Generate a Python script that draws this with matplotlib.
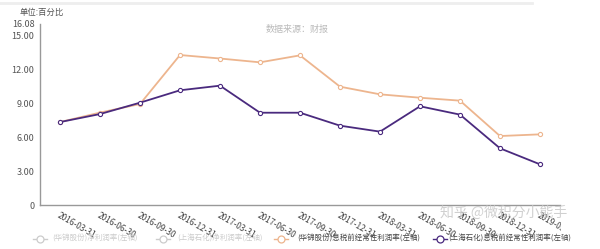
import matplotlib
matplotlib.use("Agg")
import matplotlib.pyplot as plt
from matplotlib.lines import Line2D
from matplotlib.transforms import Bbox, TransformedBbox

plt.rcParams['font.family'] = ['Noto Sans CJK SC', 'DejaVu Sans']

dates = ["2016-03-31", "2016-06-30", "2016-09-30", "2016-12-31", "2017-03-31",
         "2017-06-30", "2017-09-30", "2017-12-31", "2018-03-31", "2018-06-30",
         "2018-09-30", "2018-12-31", "2019-03-31"]
huajin_ebit = [7.36, 8.2, 8.96, 13.31, 13.0, 12.66, 13.28, 10.50, 9.82, 9.52, 9.26, 6.12, 6.27]
shpc_ebit = [7.36, 8.07, 9.08, 10.18, 10.59, 8.19, 8.19, 7.04, 6.51, 8.76, 8.02, 5.03, 3.61]
y_ticks = [0, 3, 6, 9, 12, 15, 16.08]
y_labels = ["0", "3.00", "6.00", "9.00", "12.00", "15.00", "16.08"]
legend_labels = ["(华锦股份)净利润率(左轴)", "(上海石化)净利润率(左轴)",
                 "(华锦股份)息税前经常性利润率(左轴)", "(上海石化)息税前经常性利润率(左轴)"]

W, H = 600, 249
fig = plt.figure(figsize=(6, 2.49), dpi=100)
ax = fig.add_axes([40 / W, 1 - 205 / H, 520 / W, (205 - 23.8) / H])

orange = "#EDB58E"
purple = "#4A2A7E"
x = list(range(len(dates)))
ax.plot(x, huajin_ebit, color=orange, lw=1.3, marker='o', ms=3, mfc='white', mec=orange, mew=0.8, zorder=3)
ax.plot(x, shpc_ebit, color=purple, lw=1.3, marker='o', ms=3, mfc='white', mec=purple, mew=0.8, zorder=4)

ax.set_xlim(-0.5, len(dates) - 0.5)
ax.set_ylim(0, 16.08)
ax.set_yticks(y_ticks)
ax.set_yticklabels(y_labels)
ax.set_xticks(x)
ax.set_xticklabels(dates, rotation=-30, ha='left', va='top', rotation_mode='anchor')
ax.tick_params(axis='y', length=0, labelsize=6.5, labelcolor='#555555', pad=4)
ax.tick_params(axis='x', length=0, labelsize=6, labelcolor='#444444', pad=4)
for s in ['top', 'right']:
    ax.spines[s].set_visible(False)
for s in ['left', 'bottom']:
    ax.spines[s].set_color('#999999')
    ax.spines[s].set_linewidth(1)

clip = TransformedBbox(Bbox([[0, 0], [561 / W, 1]]), fig.transFigure)
for lab in ax.get_xticklabels():
    lab.set_clip_box(clip)
    lab.set_clip_on(True)

fig.text(20 / W, 1 - 12 / H, "单位:百分比", fontsize=6, color='#555555', va='center', ha='left')
fig.text(297 / W, 1 - 29 / H, "数据来源：财报", fontsize=6.5, color='#bbbbbb', va='center', ha='center')
fig.add_artist(Line2D([0, 532 / W], [1 - 3 / H, 1 - 3 / H], color='#eeeeee', lw=2))

# legend
leg_items = [(40, 52, '#cccccc', '#cccccc'), (163, 177, '#cccccc', '#cccccc'),
             (281, 297, orange, '#444444'), (440, 448, purple, '#444444')]
ly = 1 - 239 / H
for (ix, tx, col, tcol), lab in zip(leg_items, legend_labels):
    fig.add_artist(Line2D([(ix - 7) / W, (ix + 7) / W], [ly, ly], color=col, lw=1))
    fig.add_artist(Line2D([ix / W], [ly], color=col, marker='o', ms=5, mfc='white', mec=col, mew=0.9))
    fig.text(tx / W, ly, lab, fontsize=5.4, color=tcol, va='center', ha='left')

fig.text(440 / W, 1 - 213 / H, "知乎 @微积分小能手", fontsize=10, color='#c8c8c8', alpha=0.85,
         va='center', ha='left')

fig.savefig("out.png", dpi=100)
